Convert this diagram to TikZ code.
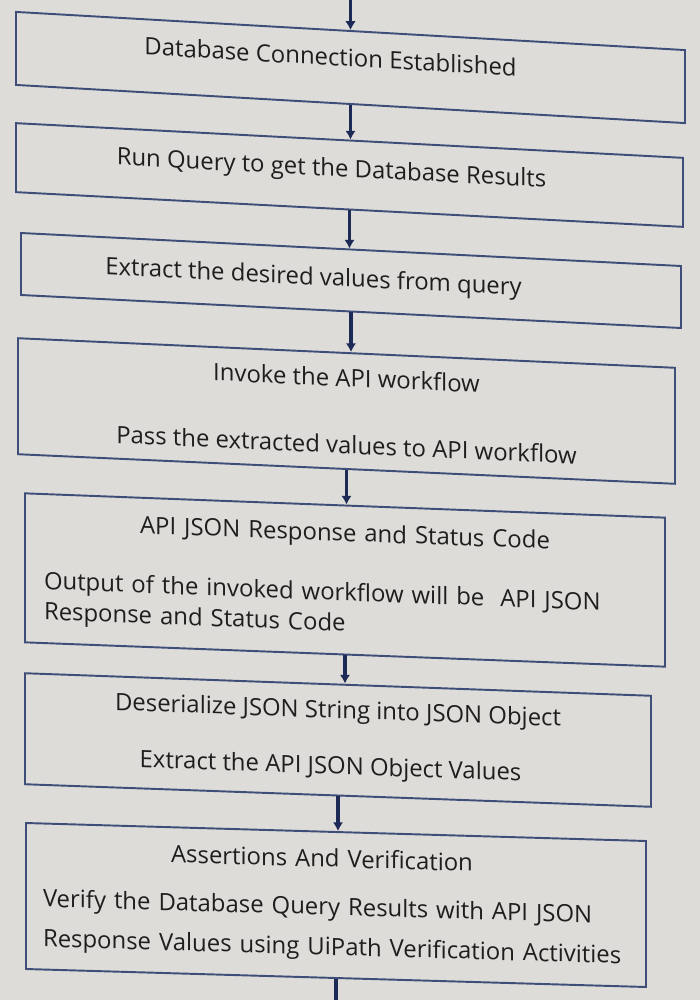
\documentclass[tikz,border=0pt]{standalone}
\usepackage{fontspec}
\setmainfont{Open Sans}
\usetikzlibrary{arrows.meta}
\definecolor{screen}{HTML}{DEDCD8}
\definecolor{frame}{HTML}{3E4E78}
\definecolor{flow}{HTML}{1C2A55}
\definecolor{ink}{HTML}{1E1E1E}

\begin{document}
\begin{tikzpicture}[
  stage/.style={draw=frame, line width=1.1pt, rectangle, inner sep=0pt, align=center, text=ink, font=\fontsize{13.6}{14.5}\selectfont},
  wide/.style={stage, align=left, inner xsep=0.38cm, text width=#1},
  flowline/.style={draw=flow, line width=2.2pt},
  flowarrow/.style={flowline, -{Latex[length=5pt,width=6pt]}}
]
% screen background
\fill[screen] (0,0) rectangle (14,-20);
\useasboundingbox (0,0) rectangle (14,-20);

% Pipeline stages
\node[stage, minimum width=13.38cm, minimum height=1.46cm, yslant=-0.057] (conn) at (7.01,-1.35) {\hspace*{-0.8cm}Database Connection Established\\[-0.11cm]};
\node[stage, minimum width=13.34cm, minimum height=1.38cm, yslant=-0.052] (query) at (6.99,-3.50) {\hspace*{-0.72cm}Run Query to get the Database Results\\[-0.23cm]};
\node[stage, minimum width=13.2cm, minimum height=1.24cm, yslant=-0.05] (extract) at (7.02,-5.61) {\hspace*{-1.5cm}Extract the desired values from query};
\node[stage, minimum width=13.14cm, minimum height=2.32cm, yslant=-0.045] (invoke) at (6.93,-8.22) {Invoke the API workflow\\[0.83cm]Pass the extracted values to API workflow};
\node[wide=12.04cm, minimum height=2.98cm, yslant=-0.038] (response) at (6.90,-11.60) {\makebox[\linewidth]{API JSON Response and Status Code}\\[0.68cm]Output of the invoked workflow will be~ API JSON\\[0.1cm]Response and Status Code};
\node[stage, minimum width=12.52cm, minimum height=2.22cm, yslant=-0.036] (deser) at (6.76,-14.80) {Deserialize JSON String into JSON Object\\[0.61cm]\hspace*{-0.3cm}Extract the API JSON Object Values};
\node[wide=11.72cm, inner xsep=0.34cm, minimum height=2.92cm, yslant=-0.029] (verify) at (6.72,-18.10) {\makebox[\linewidth]{\hspace*{-0.56cm}Assertions And Verification}\\[0.45cm]Verify the Database Query Results with API JSON\\[0.29cm]Response Values using UiPath Verification Activities};

% Arrows
\coordinate (entry) at (conn.north |- 0,0);
\draw[flowarrow] (entry) -- (conn.north);
\draw[flowarrow] (conn.south) -- (conn.south |- query.north);
\draw[flowarrow] (query.south) -- (query.south |- extract.north);
\draw[flowarrow] (extract.south) -- (extract.south |- invoke.north);
\draw[flowarrow] (invoke.south) -- (invoke.south |- response.north);
\draw[flowarrow] (response.south) -- (response.south |- deser.north);
\draw[flowarrow] (deser.south) -- (deser.south |- verify.north);
\coordinate (exit) at (verify.south |- 0,-20);
\draw[flowline] (verify.south) -- (exit);
\end{tikzpicture}
\end{document}
